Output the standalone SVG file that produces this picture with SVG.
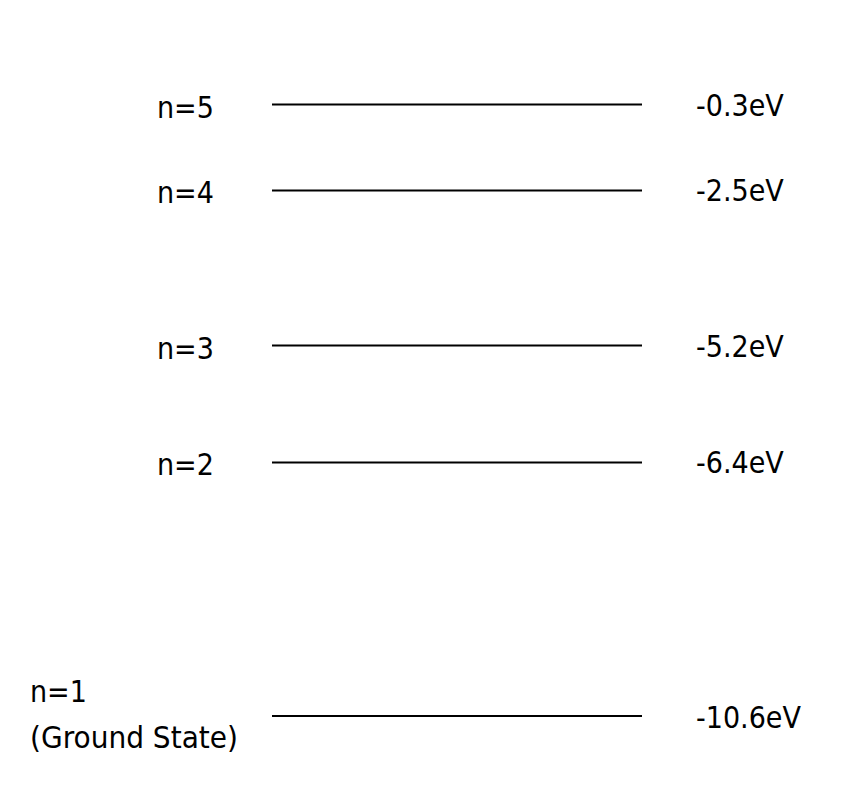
<svg xmlns="http://www.w3.org/2000/svg" width="842" height="804" viewBox="0 0 842 804">
<style>
text{font-family:"DejaVu Sans Condensed","DejaVu Sans",sans-serif;font-size:30px;fill:#000}
.lvl{stroke:#000;stroke-width:2}
</style>
<rect width="842" height="804" fill="#fff"/>
<g id="levels">
<line class="lvl" x1="272" y1="104.5" x2="642" y2="104.5"/>
<line class="lvl" x1="272" y1="190.5" x2="642" y2="190.5"/>
<line class="lvl" x1="272" y1="345.5" x2="642" y2="345.5"/>
<line class="lvl" x1="272" y1="462.5" x2="642" y2="462.5"/>
<line class="lvl" x1="272" y1="716" x2="642" y2="716"/>
</g>
<g id="n5"><text x="157" y="118">n=5</text><text x="696" y="116">-0.3eV</text></g>
<g id="n4"><text x="157" y="203">n=4</text><text x="696" y="201">-2.5eV</text></g>
<g id="n3"><text x="157" y="359">n=3</text><text x="696" y="357">-5.2eV</text></g>
<g id="n2"><text x="157" y="475">n=2</text><text x="696" y="473">-6.4eV</text></g>
<g id="n1"><text x="30" y="702">n=1</text><text x="30" y="748" textLength="208" lengthAdjust="spacingAndGlyphs">(Ground State)</text><text x="696" y="728">-10.6eV</text></g>
</svg>
